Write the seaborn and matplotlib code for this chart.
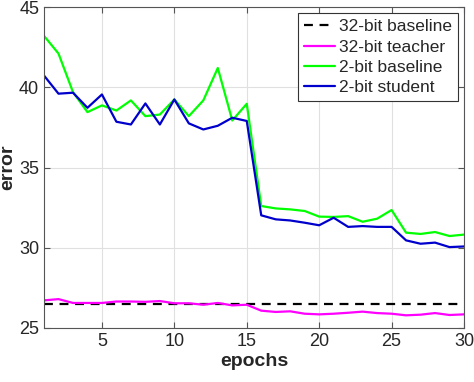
import matplotlib
matplotlib.use("Agg")
import matplotlib.pyplot as plt
import pandas as pd
import seaborn as sns
import numpy as np

# Values
epochs = list(range(1, 31))
baseline_32 = 26.5
teacher_32 = [26.72, 26.8, 26.56, 26.56, 26.56, 26.65, 26.65, 26.63, 26.68, 26.54,
              26.54, 26.45, 26.56, 26.41, 26.45, 26.08, 26.0, 26.04, 25.89, 25.85,
              25.89, 25.95, 26.02, 25.93, 25.89, 25.79, 25.83, 25.93, 25.81, 25.85]
baseline_2 = [43.2, 42.1, 39.7, 38.45, 38.87, 38.55, 39.18, 38.2, 38.3, 39.24,
              38.2, 39.18, 41.2, 37.93, 38.97, 32.6, 32.45, 32.39, 32.29, 31.94,
              31.92, 31.97, 31.62, 31.81, 32.35, 30.94, 30.86, 30.98, 30.73, 30.82]
student_2 = [40.73, 39.6, 39.66, 38.72, 39.55, 37.85, 37.68, 38.99, 37.68, 39.24,
             37.75, 37.37, 37.6, 38.1, 37.9, 32.02, 31.77, 31.7, 31.56, 31.4,
             31.87, 31.3, 31.35, 31.3, 31.3, 30.46, 30.25, 30.32, 30.04, 30.08]

df = pd.DataFrame({
    "epochs": epochs * 4,
    "error": [baseline_32] * 30 + teacher_32 + baseline_2 + student_2,
    "series": (["32-bit baseline"] * 30 + ["32-bit teacher"] * 30
               + ["2-bit baseline"] * 30 + ["2-bit student"] * 30),
})

sns.set_style("whitegrid")
plt.rcParams["font.family"] = ["Liberation Sans", "DejaVu Sans"]

fig = plt.figure(figsize=(4.74, 3.82), dpi=100)
ax = fig.add_axes([44 / 474, 1 - 328 / 382, 420 / 474, 321 / 382])

palette = {"32-bit baseline": "black", "32-bit teacher": "#ff00ff",
           "2-bit baseline": "#00ff00", "2-bit student": "#0000cc"}
dashes = {"32-bit baseline": (4, 3), "32-bit teacher": "",
          "2-bit baseline": "", "2-bit student": ""}
sns.lineplot(data=df, x="epochs", y="error", hue="series", style="series",
             palette=palette, dashes=dashes, linewidth=1.6, ax=ax)

ax.set_xlim(1, 30)
ax.set_ylim(25, 45)
ax.set_xticks([5, 10, 15, 20, 25, 30])
ax.set_yticks([25, 30, 35, 40, 45])
ax.tick_params(labelsize=13, direction="in", length=4, color="#555555",
               top=True, right=True, bottom=True, left=True)
ax.grid(color="#e0e0e0", linewidth=0.8)
for s in ax.spines.values():
    s.set_color("#555555")
    s.set_linewidth(0.8)
ax.set_xlabel("epochs", fontsize=14, fontweight="bold", labelpad=2)
ax.set_ylabel("error", fontsize=14, fontweight="bold", labelpad=2)

leg = ax.legend(loc="upper right", fontsize=12.5, handlelength=1.8, handletextpad=0.2,
                borderpad=0.35, labelspacing=0.3, fancybox=False, framealpha=1,
                borderaxespad=0.35)
leg.get_frame().set_edgecolor("#333333")
leg.get_frame().set_linewidth(0.8)

fig.savefig("out.png", dpi=100)
